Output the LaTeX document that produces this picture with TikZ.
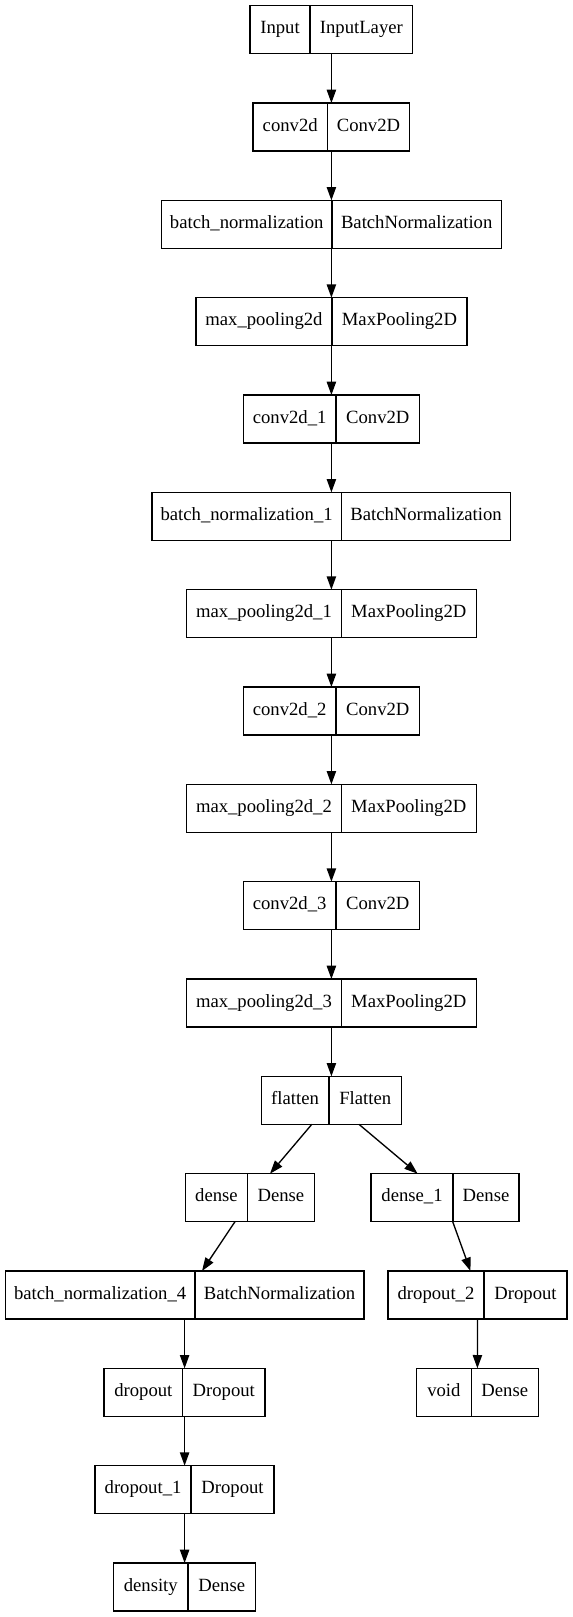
\documentclass[tikz,border=0pt]{standalone}
\usepackage{fontspec}
\setmainfont{Liberation Serif}
\usetikzlibrary{arrows.meta,calc}
\tikzset{
  layerbox/.style={draw=black, line width=1pt, minimum height=36pt, inner sep=0pt, outer sep=0pt},
  divline/.style={draw=black, line width=1pt},
  lbl/.style={inner sep=0pt, font=\fontsize{14}{16}\selectfont, text height=9.4pt, text depth=3pt, anchor=center},
  edge/.style={draw=black, line width=1pt, -{Triangle[length=10pt,width=7pt]}},
}
\newcommand{\layerrec}[7]{%
  \pgfmathsetmacro{\ly}{29.7+97.33*#2}%
  \pgfmathsetmacro{\lw}{#4*0.75}%
  \pgfmathsetmacro{\ll}{#3-#4/2}%
  \pgfmathsetmacro{\lr}{#3+#4/2}%
  \node[layerbox, minimum width=\lw pt] (#1) at (#3,\ly) {};
  \draw[divline] (#5,\ly-24) -- (#5,\ly+24);
  \node[lbl] (#1-n) at ({(\ll+#5)/2},\ly) {#6};
  \node[lbl] (#1-t) at ({(#5+\lr)/2},\ly) {#7};
}
\begin{document}
\begin{tikzpicture}[x=0.75pt, y=-0.75pt]
\useasboundingbox (0,0) rectangle (573,1617);
\layerrec{input}{0}{331.4}{162.7}{310}{Input}{InputLayer}
\layerrec{conv}{1}{331.4}{156.6}{327.3}{conv2d}{Conv2D}
\layerrec{bn}{2}{331.4}{340}{332}{batch\_normalization}{BatchNormalization}
\layerrec{mp}{3}{331.4}{271}{332}{max\_pooling2d}{MaxPooling2D}
\layerrec{convA}{4}{331.4}{176.3}{336.1}{conv2d\_1}{Conv2D}
\layerrec{bnA}{5}{331.4}{358.8}{341.3}{batch\_normalization\_1}{BatchNormalization}
\layerrec{mpA}{6}{331.4}{289.7}{341.3}{max\_pooling2d\_1}{MaxPooling2D}
\layerrec{convB}{7}{331.4}{176.3}{336.1}{conv2d\_2}{Conv2D}
\layerrec{mpB}{8}{331.4}{289.7}{341.3}{max\_pooling2d\_2}{MaxPooling2D}
\layerrec{convC}{9}{331.4}{176.3}{336.1}{conv2d\_3}{Conv2D}
\layerrec{mpC}{10}{331.4}{289.7}{341.3}{max\_pooling2d\_3}{MaxPooling2D}
\layerrec{flat}{11}{331.4}{140.3}{328.9}{flatten}{Flatten}
\layerrec{dense}{12}{250}{128.9}{247.4}{dense}{Dense}
\layerrec{denseA}{12}{445}{148}{453}{dense\_1}{Dense}
\layerrec{bnD}{13}{184.6}{358.8}{195}{batch\_normalization\_4}{BatchNormalization}
\layerrec{dropC}{13}{477.5}{179}{484}{dropout\_2}{Dropout}
\layerrec{drop}{14}{184.6}{160.9}{182.5}{dropout}{Dropout}
\layerrec{void}{14}{477.4}{121.7}{471.2}{void}{Dense}
\layerrec{dropA}{15}{184.6}{179}{191}{dropout\_1}{Dropout}
\layerrec{dens}{16}{184.6}{142}{188}{density}{Dense}
\draw[edge] (input.south) -- (conv.north);
\draw[edge] (conv.south) -- (bn.north);
\draw[edge] (bn.south) -- (mp.north);
\draw[edge] (mp.south) -- (convA.north);
\draw[edge] (convA.south) -- (bnA.north);
\draw[edge] (bnA.south) -- (mpA.north);
\draw[edge] (mpA.south) -- (convB.north);
\draw[edge] (convB.south) -- (mpB.north);
\draw[edge] (mpB.south) -- (convC.north);
\draw[edge] (convC.south) -- (mpC.north);
\draw[edge] (mpC.south) -- (flat.north);
\draw[edge] ($(flat.south)+(-19.6,0)$) -- ($(dense.north)+(20,0)$);
\draw[edge] ($(flat.south)+(27.6,0)$) -- ($(denseA.north)+(-27.4,0)$);
\draw[edge] ($(dense.south)+(-15,0)$) -- ($(bnD.north)+(17.4,0)$);
\draw[edge] ($(denseA.south)+(7.7,0)$) -- ($(dropC.north)+(-7,0)$);
\draw[edge] (bnD.south) -- (drop.north);
\draw[edge] (drop.south) -- (dropA.north);
\draw[edge] (dropA.south) -- (dens.north);
\draw[edge] (dropC.south) -- (void.north);
\end{tikzpicture}
\end{document}
